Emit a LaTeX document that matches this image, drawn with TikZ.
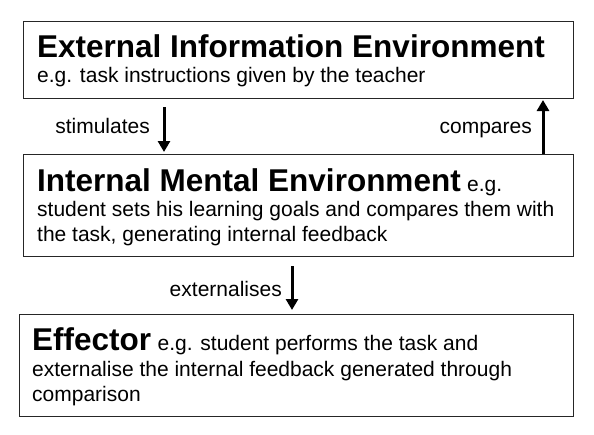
\documentclass[tikz,border=0pt]{standalone}
\usepackage{fontspec}
\setmainfont{Liberation Sans}
\usetikzlibrary{arrows.meta}
\begin{document}
\begin{tikzpicture}[x=1pt,y=-1pt,
  box/.style={draw=black!85, line width=1pt, inner sep=0pt, anchor=north west},
  head/.style={anchor=base west, inner sep=0pt, font=\fontsize{31.5}{36}\selectfont\bfseries},
  body/.style={anchor=base west, inner sep=0pt, font=\fontsize{21}{25}\selectfont},
  lab/.style={anchor=base east, inner sep=0pt, font=\fontsize{21}{25}\selectfont},
  arr/.style={line width=3pt, -{Triangle[width=12pt,length=11pt]}}]
\useasboundingbox (0,0) rectangle (594,434);
% boxes
\node[box, minimum width=550pt, minimum height=77pt] (ext) at (23,21) {};
\node[box, minimum width=550pt, minimum height=102pt] (mid) at (23,154) {};
\node[box, minimum width=554pt, minimum height=102pt] (eff) at (19,314) {};
% texts
\node[head] (extH) at (37,57) {External Information Environment};
\node[body] (extB) at (37,82) {e.g. task instructions given by the teacher};
\node[head] (midH) at (37,191) {Internal Mental Environment};
\node[body] (midE) at ([xshift=6pt]midH.base east) {e.g.};
\node[body] (midB1) at (37,216) {student sets his learning goals and compares them with};
\node[body] (midB2) at (37,241) {the task, generating internal feedback};
\node[head] (effH) at (32,350) {Effector};
\node[body] (effE) at ([xshift=6pt]effH.base east) {e.g. student performs the task and};
\node[body] (effB1) at (32,376) {externalise the internal feedback generated through};
\node[body] (effB2) at (32,401) {comparison};
% arrows
\coordinate (sx) at (164,0);
\coordinate (cx) at (543,0);
\coordinate (ex) at (292,0);
\draw[arr, shorten <=8pt, shorten >=2pt] (ext.south -| sx) -- (mid.north -| sx);
\draw[arr, shorten >=1pt] (mid.north -| cx) -- (ext.south -| cx);
\draw[arr, shorten <=9pt, shorten >=4pt] (mid.south -| ex) -- (eff.north -| ex);
% labels
\node[lab] (stim) at (150,133) {stimulates};
\node[lab] (comp) at (532,133) {compares};
\node[lab] (extl) at (282,296) {externalises};
\end{tikzpicture}
\end{document}
